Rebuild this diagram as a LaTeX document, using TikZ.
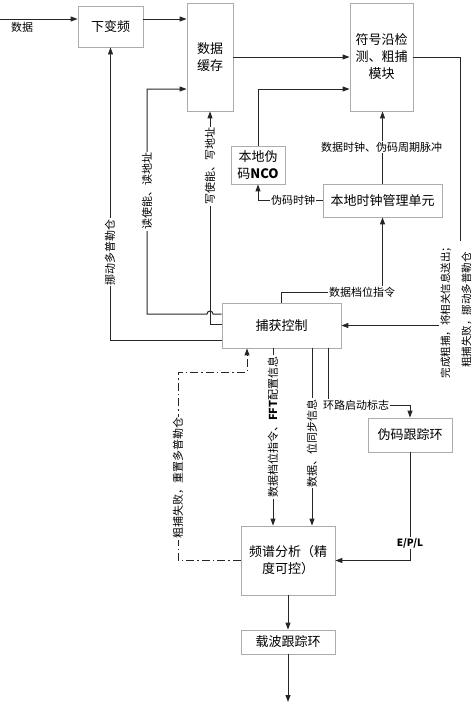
\documentclass[tikz,border=0pt]{standalone}
\usepackage{fontspec}
\setmainfont{Noto Sans CJK SC}
\usetikzlibrary{arrows.meta,positioning,calc}

\begin{document}
\begin{tikzpicture}[
  x=1pt,
  y=-1pt,
  font=\fontsize{11}{13}\selectfont,
  box/.style={draw=gray!65, fill=white, line width=0.8pt, align=center,
    inner sep=2pt, font=\fontsize{13}{17}\selectfont},
  link/.style={draw=black!85, line width=1pt, -{Triangle[length=7pt,width=5pt]}},
  dashdot/.style={dash pattern=on 8pt off 3pt on 1.5pt off 3pt},
  tag/.style={fill=white, inner sep=1pt},
  vtag/.style={tag, rotate=90}
]
  \useasboundingbox (0,0) rectangle (474,707);

  % blocks
  \node[box, minimum width=65pt, minimum height=41pt] (down) at (110.5,26.5) {下变频};
  \node[box, minimum width=46pt, minimum height=108pt] (buf) at (210,57) {数据\\缓存};
  \node[box, minimum width=63pt, minimum height=108pt] (sym) at (381.5,57) {符号沿检\\测、粗捕\\模块};
  \node[box, minimum width=54pt, minimum height=38pt] (nco) at (258,165) {本地伪\\码\textbf{NCO}};
  \node[box, minimum width=119pt, minimum height=33pt] (clk) at (382.5,200.5) {本地时钟管理单元};
  \node[box, minimum width=119pt, minimum height=45pt] (ctrl) at (281.5,325.5) {捕获控制};
  \node[box, minimum width=84pt, minimum height=34pt] (ptrack) at (410,435) {伪码跟踪环};
  \node[box, minimum width=94pt, minimum height=69pt] (fft) at (288,560.5) {频谱分析（精\\度可控）};
  \node[box, minimum width=94pt, minimum height=24pt] (carrier) at (288,642) {载波跟踪环};

  \coordinate (src) at (0,19);
  \coordinate (rside) at (460,57);
  \coordinate (gear) at (281.5,292);
  \coordinate (loop) at (328,405);
  \coordinate (lost) at (178,372);
  \coordinate (out) at (288,702);

  % connectors
  \draw[link] (src) -- (down.west |- src);
  \draw[link] (down.east |- 0,19) -- (buf.west |- 0,19);
  \draw[link] (buf) -- (sym);
  \draw[link] (nco.north) |- (sym.west |- 0,89);
  \draw[link] (clk.north) -- (clk.north |- sym.south);
  \draw[link] (clk.west) -| (nco.south);
  \draw[link] (ctrl.north) -- (gear) -| (clk.south);
  \draw[link] (sym.east) -- (rside) |- (ctrl.east);
  \draw[link] (ctrl.west |- 0,340) -| (down.south);
  \draw[link] (ctrl.west |- 0,314) -- (213,314)
    arc[start angle=0, end angle=180, radius=3pt] -- (147,314) |- (buf.west |- 0,89);
  \draw[link] (ctrl.west |- 0,324) -| (buf.south);
  \draw[link] (ctrl.south -| 273,0) -- (fft.north -| 273,0);
  \draw[link] (ctrl.south -| 312,0) -- (fft.north -| 312,0);
  \draw[link] (ctrl.south -| loop) -- (loop) -| (ptrack.north);
  \draw[link] (ptrack.south) |- (fft.east);
  \draw[link, dashdot] (fft.west) -| (lost) -| (ctrl.south -| 247,0);
  \draw[link] (fft) -- (carrier);
  \draw[link] (carrier) -- (out);

  % labels
  \node at (22,27) {数据};
  \node[vtag] at (110,252) {挪动多普勒仓};
  \node[vtag] at (147,191) {读使能、读地址};
  \node[vtag] at (210,166) {写使能、写地址};
  \node[tag] at (293,200.5) {伪码时钟};
  \node[tag] at (381.5,147) {数据时钟、伪码周期脉冲};
  \node[tag] at (362,292) {数据档位指令};
  \node[vtag, align=center, font=\fontsize{10.5}{21}\selectfont] at (456,310)
    {完成粗捕，将相关信息送出；\\粗捕失败，挪动多普勒仓};
  \node[vtag] at (273,427) {数据档位指令、\textbf{FFT}配置信息};
  \node[vtag] at (312,443) {数据、位同步信息};
  \node[tag] at (356,405) {环路启动标志};
  \node[tag, font=\bfseries\fontsize{10}{12}\selectfont] at (410,543) {E/P/L};
  \node[vtag] at (178,478) {粗捕失败，重置多普勒仓};
\end{tikzpicture}
\end{document}
